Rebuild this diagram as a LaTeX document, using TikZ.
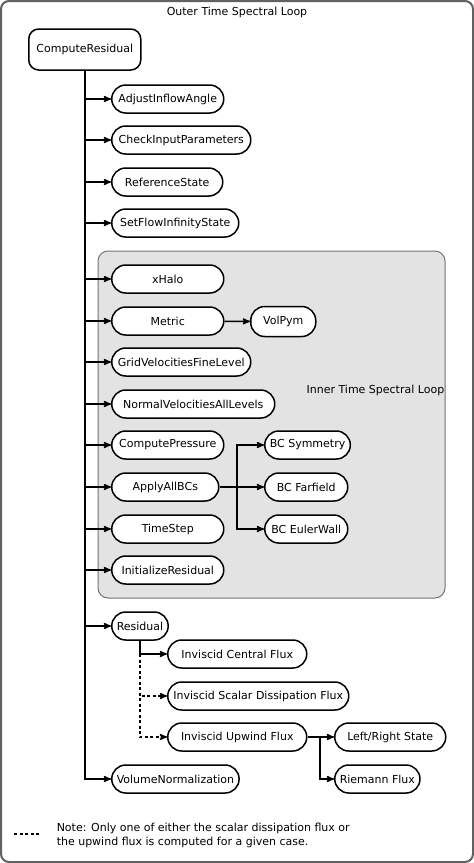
\documentclass[tikz,border=0pt]{standalone}
\usepackage{fontspec}
\setmainfont{DejaVu Sans}
\usepackage{tikz}
\usetikzlibrary{arrows,positioning}

\begin{document}
\begin{tikzpicture}[>=stealth',x=1pt,y=-1pt,line width=1.5pt,
                    font=\fontsize{11}{14}\selectfont]
  \tikzstyle{call}=[draw=black,fill=white,text=black,rounded corners=14pt,
                    minimum height=28pt,inner xsep=5pt,anchor=west]
  \tikzstyle{flow}=[->,line width=1.5pt]
  \tikzstyle{maybe}=[flow,dash pattern=on 3pt off 2.5pt]

  \useasboundingbox (0,0) rectangle (474,863);
  \draw[line width=2pt,draw=black!62,fill=white,rounded corners=8pt] (1,1) rectangle (473,862);
  \node (outer) at (237,12) {Outer Time Spectral Loop};
  \draw[line width=1pt,draw=black!55,fill=black!11,rounded corners=10pt] (98,251) rectangle (445,598);
  \node[anchor=east,inner sep=0pt] (inner) at (445,390) {Inner Time Spectral Loop};

  \node[call,rounded corners=10pt,minimum width=112pt,minimum height=41pt] (comp) at (28,49.5) {ComputeResidual};
  \node[call,minimum width=112pt] (adjust)   at (111,99)  {AdjustInflowAngle};
  \node[call,minimum width=139pt] (check)    at (111,140) {CheckInputParameters};
  \node[call,minimum width=111pt] (refstate) at (111,182) {ReferenceState};
  \node[call,minimum width=127pt] (setinf)   at (111,223) {SetFlowInfinityState};
  \node[call,minimum width=112pt] (xhalo)    at (111,279) {xHalo};
  \node[call,minimum width=112pt] (metric)   at (111,321) {Metric};
  \node[call,minimum width=65pt,minimum height=30pt] (volpym) at (250,321.5) {VolPym};
  \node[call,minimum width=139pt] (gridvel)  at (111,362) {GridVelocitiesFineLevel};
  \node[call,minimum width=163pt] (normvel)  at (111,404) {NormalVelocitiesAllLevels};
  \node[call,minimum width=112pt] (pressure) at (111,445) {ComputePressure};
  \node[call,minimum width=107pt] (allbcs)   at (111,487) {ApplyAllBCs};
  \node[call,minimum width=112pt] (tstep)    at (111,529) {TimeStep};
  \node[call,minimum width=112pt] (initres)  at (111,570) {InitializeResidual};
  \node[call,minimum width=83pt]  (bcsym)    at (264,445) {BC Symmetry};
  \node[call,minimum width=83pt]  (bcfar)    at (264,487) {BC Farfield};
  \node[call,minimum width=83pt]  (bcwall)   at (264,529) {BC EulerWall};
  \node[call,minimum width=56pt]  (resid)    at (111,626) {Residual};
  \node[call,minimum width=139pt] (central)  at (167,654) {Inviscid Central Flux};
  \node[call,minimum width=181pt] (scalar)   at (167,696) {Inviscid Scalar Dissipation Flux};
  \node[call,minimum width=139pt] (upwind)   at (167,737) {Inviscid Upwind Flux};
  \node[call,minimum width=111pt] (lrstate)  at (334,737) {Left/Right State};
  \node[call,minimum width=83pt]  (riemann)  at (334,779) {Riemann Flux};
  \node[call,minimum width=126pt] (volnorm)  at (111,779) {VolumeNormalization};

  % main trunk
  \draw[flow] (comp.south) |- (volnorm);
  \foreach \n in {adjust,check,refstate,setinf,xhalo,metric,gridvel,normvel,pressure,allbcs,tstep,initres,resid}
    \draw[flow] (comp.south |- \n.west) -- (\n);

  % branches
  \draw[flow] (metric) -- (volpym);
  \coordinate (bcsplit) at (237,487);
  \draw[flow] (allbcs) -- (bcfar);
  \draw[flow] (bcsplit) |- (bcsym);
  \draw[flow] (bcsplit) |- (bcwall);
  \draw[flow] (resid.south) |- (central);
  \draw[maybe] (resid.south |- central.west) |- (scalar);
  \draw[maybe] (resid.south |- central.west) |- (upwind);
  \coordinate (upsplit) at (320,737);
  \draw[flow] (upwind) -- (lrstate);
  \draw[flow] (upsplit) |- (riemann);

  % key
  \coordinate (keyleft) at (14,834);
  \coordinate (keyright) at (41,834);
  \draw[line width=1.2pt,dash pattern=on 3pt off 2.5pt] (keyleft) -- (keyright);
  \node[anchor=west,align=left,inner sep=0pt] (note) at (56,835)
    {Note: Only one of either the scalar dissipation flux or\\the upwind flux is computed for a given case.};
\end{tikzpicture}
\end{document}
